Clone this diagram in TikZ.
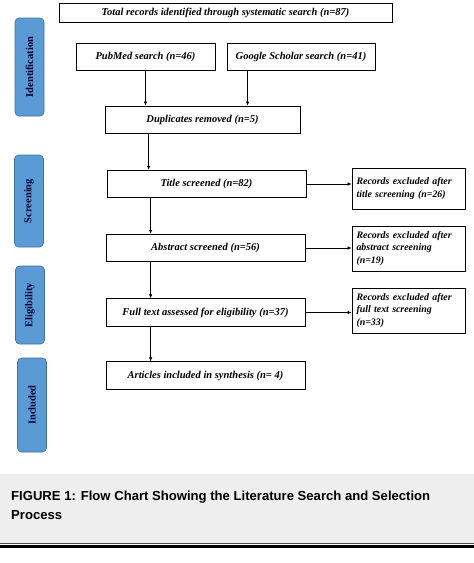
\documentclass[tikz,border=0pt]{standalone}
\usepackage{fontspec}
\setmainfont{Liberation Serif}
\newfontfamily\capfont{Liberation Sans}
\usetikzlibrary{arrows.meta,positioning}
\definecolor{stageblue}{HTML}{5B9BD5}
\definecolor{stageedge}{HTML}{41719C}
\definecolor{capgray}{HTML}{EEEEEE}

\begin{document}
\begin{tikzpicture}[
    x=1pt, y=-1pt,
    box/.style={draw, line width=0.8pt, align=center, inner sep=2pt, font=\fontsize{10.5}{13}\selectfont\bfseries\itshape},
    flow/.style={box, minimum width=199pt, minimum height=27.5pt},
    excl/.style={draw, line width=0.8pt, align=left, text width=104pt, inner sep=4.5pt, minimum width=113pt, font=\fontsize{9.9}{12.8}\selectfont\bfseries\itshape},
    stage/.style={draw=stageedge, fill=stageblue, rounded corners=4pt, line width=0.6pt, minimum width=29pt},
    stagetext/.style={rotate=90, font=\fontsize{10.5}{12}\selectfont\bfseries, text=black!80!blue},
    link/.style={-{Latex[length=4pt,width=3.5pt]}, line width=0.7pt}
]
\useasboundingbox (0,0) rectangle (474,563);

% stages
\node[stage, minimum height=98pt] (ident) at (29.5,67) {};
\node[stagetext] at (ident) {Identification};
\node[stage, minimum height=92pt] (scr) at (29,201) {};
\node[stagetext] at (scr) {Screening};
\node[stage, minimum height=78pt] (elig) at (30,305) {};
\node[stagetext] at (elig) {Eligibility};
\node[stage, minimum height=94pt] (incl) at (32,405) {};
\node[stagetext] at (incl) {Included};

% main flow
\node[box, minimum width=333pt, minimum height=19pt] (total) at (225.5,12.5) {Total records identified through systematic search (n=87)};
\node[box, minimum width=139pt, minimum height=27pt] (pubmed) at (145.5,56.5) {PubMed search (n=46)};
\node[box, minimum width=148pt, minimum height=27pt] (scholar) at (301,56.5) {Google Scholar search (n=41)};
\node[box, minimum width=195pt, minimum height=27pt] (dupl) at (202.5,119.5) {Duplicates removed (n=5)};
\node[flow] (title) at (206.5,184) {Title screened (n=82)};
\node[flow] (abstract) at (205.5,248) {Abstract screened (n=56)};
\node[flow] (fulltext) at (205.5,312.5) {Full text assessed for eligibility (n=37)};
\node[flow] (synth) at (205.5,375.5) {Articles included in synthesis (n= 4)};

% exclusions
\node[excl, minimum height=41pt] (ex1) at (408.5,188.5) {Records excluded after\\title screening (n=26)};
\node[excl, minimum height=45pt] (ex2) at (408.5,248.5) {Records excluded after\\abstract screening\\(n=19)};
\node[excl, minimum height=45pt] (ex3) at (408.5,310.5) {Records excluded after\\full text screening\\(n=33)};

% arrows
\draw[link] (pubmed.south) -- (pubmed.south |- dupl.north);
\draw[link] ([xshift=21pt]scholar.south west) -- ([xshift=21pt]scholar.south west |- dupl.north);
\draw[link] ([xshift=44pt]dupl.south west) -- ([xshift=44pt]dupl.south west |- title.north);
\draw[link] ([xshift=44pt]title.south west) -- ([xshift=44pt]title.south west |- abstract.north);
\draw[link] ([xshift=45pt]abstract.south west) -- ([xshift=45pt]abstract.south west |- fulltext.north);
\draw[link] ([xshift=45pt]fulltext.south west) -- ([xshift=45pt]fulltext.south west |- synth.north);
\draw[link] (title.east) -- (title.east -| ex1.west);
\draw[link] (abstract.east) -- (abstract.east -| ex2.west);
\draw[link] (fulltext.east) -- (fulltext.east -| ex3.west);

% caption
\fill[capgray] (0,474) rectangle (474,542.5);
\node[anchor=north west, align=left, inner sep=0pt, font=\fontsize{13.1}{19.5}\selectfont\capfont\bfseries] (caption) at (11,490.5) {FIGURE 1: Flow Chart Showing the Literature Search and Selection\\Process};
\draw[line width=0.6pt, black!70] (0,543.5) -- (474,543.5);
\draw[line width=2.2pt] (0,546.5) -- (474,546.5);
\end{tikzpicture}
\end{document}
